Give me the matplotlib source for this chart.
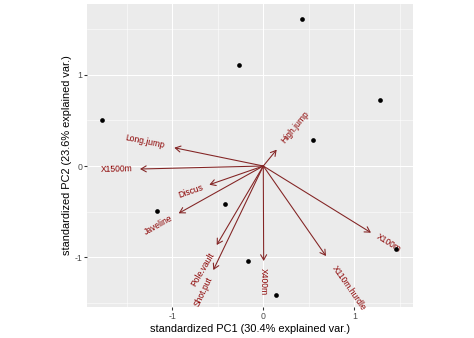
import numpy as np
import matplotlib
matplotlib.use("Agg")
import matplotlib.pyplot as plt
import matplotlib.transforms as mtransforms

# observation scores (standardized PC1 / PC2)
pc1 = [0.422, -0.264, -1.776, 1.286, 0.549, -1.171, -0.421, -0.168, 0.136, 1.455]
pc2 = [1.613, 1.103, 0.500, 0.726, 0.285, -0.495, -0.413, -1.040, -1.410, -0.912]

# variable loadings (arrow tips)
var_names = ["Long.jump", "High.jump", "X1500m", "Discus", "Javeline",
             "Pole.vault", "Shot.put", "X400m", "X110m.hurdle", "X100m"]
var_x = [-0.978, 0.147, -1.355, -0.593, -0.930, -0.512, -0.549, 0.004, 0.689, 1.183]
var_y = [0.200, 0.179, -0.033, -0.205, -0.518, -0.865, -1.139, -1.040, -0.986, -0.730]

xticks = [-1, 0, 1]
yticks = [-1, 0, 1]

plt.rcParams["font.family"] = ["Liberation Sans", "DejaVu Sans"]
plt.rcParams["axes.unicode_minus"] = False

DPI = 72
fig = plt.figure(figsize=(474 / DPI, 338 / DPI), dpi=DPI)
ax = fig.add_axes([87.3 / 474, 31 / 338, (413 - 87.3) / 474, 303 / 338])
ax.set_facecolor("#EBEBEB")
for s in ax.spines.values():
    s.set_visible(False)

ax.set_xlim(-1.934, 1.645)
ax.set_ylim(-1.544, 1.774)

ax.set_xticks(xticks)
ax.set_yticks(yticks)
ax.set_xticks([-1.5, -0.5, 0.5, 1.5], minor=True)
ax.set_yticks([-1.5, -0.5, 0.5, 1.5], minor=True)
ax.grid(which="major", color="white", linewidth=1.07)
ax.grid(which="minor", color="white", linewidth=0.53)
ax.set_axisbelow(True)
ax.tick_params(which="major", length=2.75, width=1.07, color="#333333",
               labelcolor="#4D4D4D", labelsize=8.8, pad=2.2)
ax.tick_params(which="minor", length=0)

ax.set_xlabel("standardized PC1 (30.4% explained var.)", fontsize=11, labelpad=2.75)
ax.set_ylabel("standardized PC2 (23.6% explained var.)", fontsize=11, labelpad=2.75)

# arrows
for vx, vy in zip(var_x, var_y):
    ax.annotate("", xy=(vx, vy), xytext=(0, 0),
                arrowprops=dict(arrowstyle="->,head_length=0.52,head_width=0.3",
                                mutation_scale=10, color="#832424", lw=1.07,
                                shrinkA=0, shrinkB=0))

# variable labels, rotated along the arrow, nudged outward (hjust -0.25 / 1.25)
renderer = fig.canvas.get_renderer()
for name, vx, vy in zip(var_names, var_x, var_y):
    angle = np.degrees(np.arctan(vy / vx))
    tmp = ax.text(0, 0, name, fontsize=8.5)
    w = tmp.get_window_extent(renderer).width
    tmp.remove()
    d = np.hypot(vx, vy)
    dx, dy = 0.25 * w * vx / d, 0.25 * w * vy / d
    tr = mtransforms.offset_copy(ax.transData, fig=fig, x=dx, y=dy, units="dots")
    ax.text(vx, vy, name, fontsize=8.5, color="#8B0000", rotation=angle,
            rotation_mode="anchor", ha="left" if vx > 0 else "right",
            va="center", transform=tr)

ax.scatter(pc1, pc2, s=22, color="black", zorder=5, linewidths=0)

fig.savefig("out.png", dpi=DPI)
